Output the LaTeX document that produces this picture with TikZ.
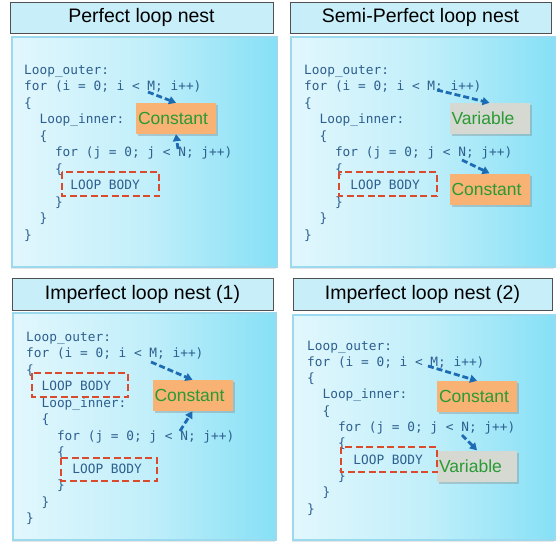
\documentclass[tikz,border=0pt]{standalone}
\usepackage{fontspec}
\setmainfont{Liberation Sans}
\newfontfamily\codefont{DejaVu Sans Mono}
\usepackage{tikz}
\usetikzlibrary{arrows.meta,shadows}
\definecolor{titlefill}{HTML}{C8EFF9}
\definecolor{titleline}{HTML}{505050}
\definecolor{codeL}{HTML}{E2F7FD}
\definecolor{codeM}{HTML}{C2EFFA}
\definecolor{codeR}{HTML}{86E0F6}
\definecolor{codeline}{HTML}{9AD9EE}
\definecolor{codetext}{HTML}{2D5F8F}
\definecolor{constfill}{HTML}{F8B273}
\definecolor{varfill}{HTML}{D5D9D2}
\definecolor{limittext}{HTML}{2A9A35}
\definecolor{bodyred}{HTML}{DA4A2C}
\definecolor{depblue}{HTML}{1D6BB3}
\newcommand{\ind}[1]{\hspace*{#1\fontcharwd\font`x}}
\tikzset{
  title/.style={draw=titleline, fill=titlefill, inner sep=0pt,
    minimum height=31pt, font=\fontsize{19.5}{22}\selectfont},
  codebox/.style={draw=codeline, line width=1.5pt, left color=codeL,
    right color=codeR, middle color=codeM,
    drop shadow={shadow xshift=-1pt, shadow yshift=-1.5pt, opacity=.2}},
  code/.style={anchor=base west, inner sep=0pt, text=codetext,
    font=\codefont\fontsize{12.8}{15}\selectfont},
  limit/.style={fill=#1, minimum height=31pt, text width=76pt,
    inner xsep=2pt, align=left, text=limittext,
    font=\fontsize{17.5}{20}\selectfont,
    drop shadow={shadow xshift=2pt, shadow yshift=-2pt, opacity=.35}},
  body/.style={draw=bodyred, line width=2.8pt, dash pattern=on 7pt off 3.5pt},
  dep/.style={draw=depblue, line width=2.8pt, dash pattern=on 6pt off 3pt,
    -{Triangle[length=7pt,width=8pt]}}
}
\begin{document}
\begin{tikzpicture}[x=1pt,y=-1pt]
  \useasboundingbox (0,0) rectangle (558,542);
  % titles
  \node[title, minimum width=263pt] (t1) at (141.5,17.5) {Perfect loop nest};
  \node[title, minimum width=261pt] (t2) at (420.5,17.5) {Semi-Perfect loop nest};
  \node[title, minimum width=261pt, minimum height=32pt] (t3) at (142.5,294) {Imperfect loop nest (1)};
  \node[title, minimum width=259pt, minimum height=32pt] (t4) at (422.5,294) {Imperfect loop nest (2)};

  % code panels
  \draw[codebox] (12,37) rectangle (277,267);
  \draw[codebox] (291,37) rectangle (555,267);
  \draw[codebox] (13,313) rectangle (276,540);
  \draw[codebox] (293,315) rectangle (555,540);

  % perfect
  \foreach \ln [count=\k from 0] in {{Loop\_outer:},{for (i = 0; i < M; i++)},{\{},
      {\ind{2}Loop\_inner:},{\ind{2}\{},{\ind{4}for (j = 0; j < N; j++)},{\ind{4}\{},
      {\ind{6}LOOP BODY},{\ind{4}\}},{\ind{2}\}},{\}}}
    \node[code] (a\k) at (24,74+16.5*\k) {\ln};
  \draw[body] (62,172) rectangle (159,196);
  \node[limit=constfill] (k1) at (176,118.5) {Constant};
  \coordinate (m1) at (148,92);
  \coordinate (n1) at (178,149);
  \draw[dep] (m1) -- (k1.north);
  \draw[dep] (n1) -- (k1.south);

  % semi-perfect
  \foreach \ln [count=\k from 0] in {{Loop\_outer:},{for (i = 0; i < M; i++)},{\{},
      {\ind{2}Loop\_inner:},{\ind{2}\{},{\ind{4}for (j = 0; j < N; j++)},{\ind{4}\{},
      {\ind{6}LOOP BODY},{\ind{4}\}},{\ind{2}\}},{\}}}
    \node[code] (b\k) at (304,74+16.5*\k) {\ln};
  \draw[body] (339,172) rectangle (437,196);
  \node[limit=varfill] (k2) at (489.5,118.5) {Variable};
  \node[limit=constfill] (k3) at (489.5,189) {Constant};
  \coordinate (m2) at (437,90);
  \coordinate (n2) at (462,160);
  \draw[dep] (m2) -- (k2.north);
  \draw[dep] (n2) -- (k3.north);

  % imperfect (1)
  \foreach \ln [count=\k from 0] in {{Loop\_outer:},{for (i = 0; i < M; i++)},{\{},
      {\ind{2}LOOP BODY},{\ind{2}Loop\_inner:},{\ind{2}\{},{\ind{4}for (j = 0; j < N; j++)},
      {\ind{4}\{},{\ind{6}LOOP BODY},{\ind{4}\}},{\ind{2}\}},{\}}}
    \node[code] (c\k) at (26,341+16.5*\k) {\ln};
  \draw[body] (32,373) rectangle (128,397);
  \draw[body] (61,458) rectangle (157,481);
  \node[limit=constfill] (k4) at (192.5,395.5) {Constant};
  \coordinate (m3) at (151,362);
  \coordinate (n3) at (180,431);
  \draw[dep] (m3) -- (k4.north);
  \draw[dep] (n3) -- (k4.south);

  % imperfect (2)
  \foreach \ln [count=\k from 0] in {{Loop\_outer:},{for (i = 0; i < M; i++)},{\{},
      {\ind{2}Loop\_inner:},{\ind{2}\{},{\ind{4}for (j = 0; j < N; j++)},{\ind{4}\{},
      {\ind{6}LOOP BODY},{\ind{4}\}},{\ind{2}\}},{\}}}
    \node[code] (d\k) at (307,350+16.3*\k) {\ln};
  \node[limit=constfill] (k5) at (477,396.5) {Constant};
  \node[limit=varfill] (k6) at (477,466) {Variable};
  \draw[body] (341,447) rectangle (437,472);
  \coordinate (m4) at (428,366);
  \coordinate (n4) at (462,435);
  \draw[dep] (m4) -- (k5.north);
  \draw[dep] (n4) -- (k6.north);
\end{tikzpicture}
\end{document}
